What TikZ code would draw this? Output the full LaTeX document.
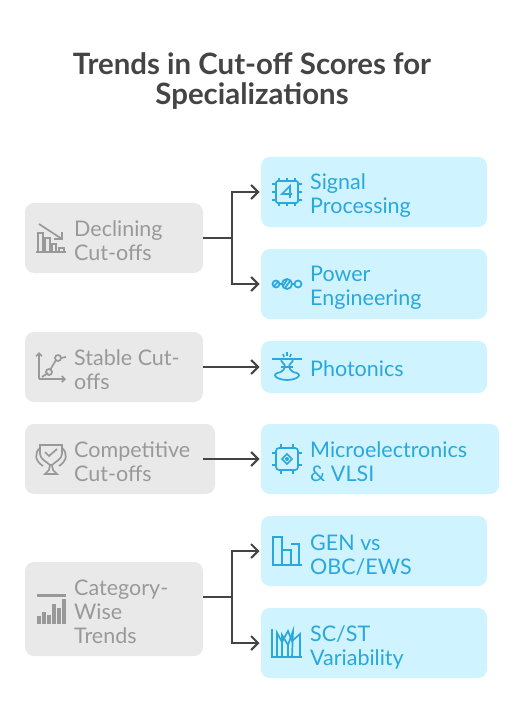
\documentclass[tikz,border=0pt]{standalone}
\usepackage{fontspec}
\setmainfont{Lato}
\usetikzlibrary{arrows.meta,positioning,calc}
\definecolor{cutgray}{HTML}{E9E9E9}
\definecolor{cuttext}{HTML}{999999}
\definecolor{specblue}{HTML}{CFF3FF}
\definecolor{spectext}{HTML}{2AA8DC}
\definecolor{inkdark}{HTML}{444444}

\tikzset{
  pics/fallbars/.style={code={
    \draw (-15,14) -- (15,14);
    \draw (-13,14) -- (-13,-5) -- (-8,-5) -- (-8,14);
    \draw (-6,14) -- (-6,0) -- (-1,0) -- (-1,14);
    \draw (1,14) -- (1,6) -- (5,6) -- (5,14);
    \draw (8,14) -- (8,10) -- (13,10) -- (13,14);
    \draw (-12,-14) -- (11,1);
    \draw (3,1) -- (11,1) -- (11,-6);
  }},
  pics/steadyplot/.style={code={
    \draw[-{Straight Barb[length=3pt,width=6pt]}] (-12,12) -- (-12,-15);
    \draw[-{Straight Barb[length=3pt,width=6pt]}] (-12,12) -- (15,12);
    \draw (-9,10) -- (-3,6);
    \draw (-1,3) -- (5,-7);
    \draw (10,-9) -- (15,-10);
    \draw (-2,5) circle[radius=3];
    \draw (7,-9) circle[radius=3];
  }},
  pics/trophy/.style={code={
    \draw (-11,-14) -- (11,-14) -- (11,-5) .. controls (11,0) and (4,3) .. (1,6) -- (-1,6) .. controls (-4,3) and (-11,0) .. (-11,-5) -- cycle;
    \draw (-11,-11) .. controls (-17,-6) and (-16,2) .. (-8,7);
    \draw (11,-11) .. controls (17,-6) and (16,2) .. (8,7);
    \draw (-1,6) -- (-2,11) -- (-6,15) -- (6,15) -- (2,11) -- (1,6);
    \draw (-6,-7) -- (-2,-3) -- (6,-10);
  }},
  pics/barsline/.style={code={
    \fill (-14,-3) rectangle (15,0);
    \fill (-14,27) rectangle (-10,19);
    \fill (-9,27) rectangle (-5,15);
    \fill (-4,27) rectangle (0,18);
    \fill (1,27) rectangle (5,7);
    \fill (6,27) rectangle (10,11);
    \fill (11,27) rectangle (15,2);
  }},
  pics/chipfour/.style={code={
    \draw[rounded corners=2pt] (-11,-11) rectangle (11,11);
    \foreach \k in {-8,0,8} {
      \draw (\k,-14) -- (\k,-11);
      \draw (\k,11) -- (\k,14);
      \draw (-15,\k) -- (-11,\k);
      \draw (11,\k) -- (15,\k);
    }
    \draw (3,6) -- (3,-6) -- (-5,2) -- (5,2);
  }},
  pics/waveknot/.style={code={
    \draw (-11,0) circle[radius=3.5];
    \draw (0,0) circle[radius=5];
    \draw (11,0) circle[radius=3.5];
    \draw (-7.5,0) -- (-5,0);
    \draw (5,0) -- (7.5,0);
    \draw (-13,2) -- (-9,-2);
    \draw (-4,2) -- (0,-4);
    \draw (-2,4) -- (3,-3);
  }},
  pics/lightwell/.style={code={
    \draw (-15,-8) -- (15,-8);
    \draw (0,-15) -- (0,-11);
    \draw (-4,-13) -- (-3,-10);
    \draw (4,-13) -- (3,-10);
    \draw (-6,-8) .. controls (-6,-4) and (-2,-4) .. (-2,0) .. controls (-2,3) and (-5,3) .. (-6,5);
    \draw (6,-8) .. controls (6,-4) and (2,-4) .. (2,0) .. controls (2,3) and (5,3) .. (6,5);
    \draw (-6,0) -- (6,0);
    \draw (-6,5) .. controls (-18,7) and (-10,13) .. (0,13) .. controls (10,13) and (18,7) .. (6,5);
  }},
  pics/chipcore/.style={code={
    \draw[rounded corners=3pt] (-11,-11) rectangle (11,11);
    \foreach \k in {-6,6} {
      \draw (\k,-15) -- (\k,-11);
      \draw (\k,11) -- (\k,15);
      \draw (-15,\k) -- (-11,\k);
      \draw (11,\k) -- (15,\k);
    }
    \draw (0,-5) -- (5,0) -- (0,5) -- (-5,0) -- cycle;
    \fill (0,0) circle[radius=2];
  }},
  pics/stepbars/.style={code={
    \draw (-15,14) -- (15,14);
    \draw (-14,14) -- (-14,-14) -- (-5,-14) -- (-5,14);
    \draw (-5,-1) -- (4,-1) -- (4,14);
    \draw (4,-7) -- (12,-7) -- (12,14);
  }},
  pics/spikes/.style={code={
    \draw (-15,-14) -- (-15,14) -- (15,14);
    \draw (-10,14) -- (-10,-10) -- (-5,-1) -- (1,-12) -- (5,-2) -- (13,-9) -- (13,14);
    \draw (-5,14) -- (-5,-8) -- (1,2) -- (6,-12) -- (5,14);
    \draw (1,2) -- (1,14);
  }}
}

\begin{document}
\begin{tikzpicture}[
  x=1pt, y=-1pt,
  cutbox/.style={fill=cutgray, rounded corners=9pt, inner sep=0pt, outer sep=0pt, minimum width=178pt, minimum height=70pt},
  specbox/.style={fill=specblue, rounded corners=9pt, inner sep=0pt, outer sep=0pt, minimum width=226pt, minimum height=70pt},
  cutlabel/.style={text=cuttext, align=left, inner sep=0pt, yshift=-2.5pt, font=\fontsize{21.5}{24}\selectfont},
  speclabel/.style={text=spectext, align=left, inner sep=0pt, yshift=-4pt, font=\fontsize{21.5}{24}\selectfont},
  cuticon/.style={draw=cuttext, fill=cuttext, line width=1.7pt},
  specicon/.style={draw=spectext, fill=spectext, line width=1.7pt},
  arrow/.style={-{Straight Barb[length=7pt,width=14pt]}, draw=inkdark, line width=2pt, shorten >=1.5pt}
]
\useasboundingbox (0,0) rectangle (512,727);

\node[text=inkdark, align=center, font=\fontsize{29.4}{30}\selectfont\bfseries] (title) at (252,81) {Trends in Cut-off Scores for\\Specializations};

% specializations on the right
\node[specbox] (signal) at (374,192) {};
\node[specbox, below=22pt of signal] (power) {};
\node[specbox, minimum height=52pt, below=22pt of power] (photonics) {};
\node[specbox, minimum width=238pt, below=31pt of photonics.south west, anchor=north west] (micro) {};
\node[specbox, below=22pt of micro.south west, anchor=north west] (gen) {};
\node[specbox, below=22pt of gen] (scst) {};

% cut-off groups on the left
\node[cutbox, left=58pt of $(signal.west)!.5!(power.west)$] (declining) {};
\node[cutbox, left=58pt of photonics] (stable) {};
\node[cutbox, minimum width=190pt, anchor=west] (competitive) at ($(micro.west)-(236,0)$) {};
\node[cutbox, minimum height=94pt, anchor=north east] (category) at (203,562) {};

% labels
\node[speclabel, right=49pt of signal.west] (signaltext) {Signal\\Processing};
\node[speclabel, right=49pt of power.west] (powertext) {Power\\Engineering};
\node[speclabel, yshift=2pt, right=49pt of photonics.west] (photonicstext) {Photonics};
\node[speclabel, yshift=1.5pt, right=49pt of micro.west] (microtext) {Microelectronics\\\& VLSI};
\node[speclabel, right=49pt of gen.west] (gentext) {GEN vs\\OBC/EWS};
\node[speclabel, right=49pt of scst.west] (scsttext) {SC/ST\\Variability};
\node[cutlabel, right=49pt of declining.west] (decliningtext) {Declining\\Cut-offs};
\node[cutlabel, right=49pt of stable.west] (stabletext) {Stable Cut-\\offs};
\node[cutlabel, right=49pt of competitive.west] (competitivetext) {Competitive\\Cut-offs};
\node[cutlabel, right=49pt of category.west] (categorytext) {Category-\\Wise\\Trends};

% icons
\pic[specicon, fill=none] at ($(signal.west)+(26,0)$) {chipfour};
\pic[specicon, fill=none] at ($(power.west)+(26,0)$) {waveknot};
\pic[specicon, fill=none] at ($(photonics.west)+(26,0)$) {lightwell};
\pic[specicon, fill=none] at ($(micro.west)+(26,0)$) {chipcore};
\pic[specicon, fill=none] at ($(gen.west)+(26,0)$) {stepbars};
\pic[specicon, fill=none] at ($(scst.west)+(26,0)$) {spikes};
\pic[cuticon, fill=none] at ($(declining.west)+(26,0)$) {fallbars};
\pic[cuticon, fill=none] at ($(stable.west)+(26,0)$) {steadyplot};
\pic[cuticon, fill=none] at ($(competitive.west)+(26,0)$) {trophy};
\pic[draw=none, fill=cuttext] at (51,597) {barsline};

% connectors
\coordinate (competitiveout) at ($(competitive.east)-(12,0)$);
\coordinate (categoryout) at ($(gen.west)!.5!(scst.west)-(58,0)$);
\draw[arrow] (declining.east) -- ++(29,0) |- (signal.west);
\draw[arrow] (declining.east) -- ++(29,0) |- (power.west);
\draw[arrow] (stable.east) -- (photonics.west);
\draw[arrow] (competitiveout) -- (micro.west);
\draw[arrow] (categoryout) -- ++(29,0) |- (gen.west);
\draw[arrow] (categoryout) -- ++(29,0) |- (scst.west);
\end{tikzpicture}
\end{document}
